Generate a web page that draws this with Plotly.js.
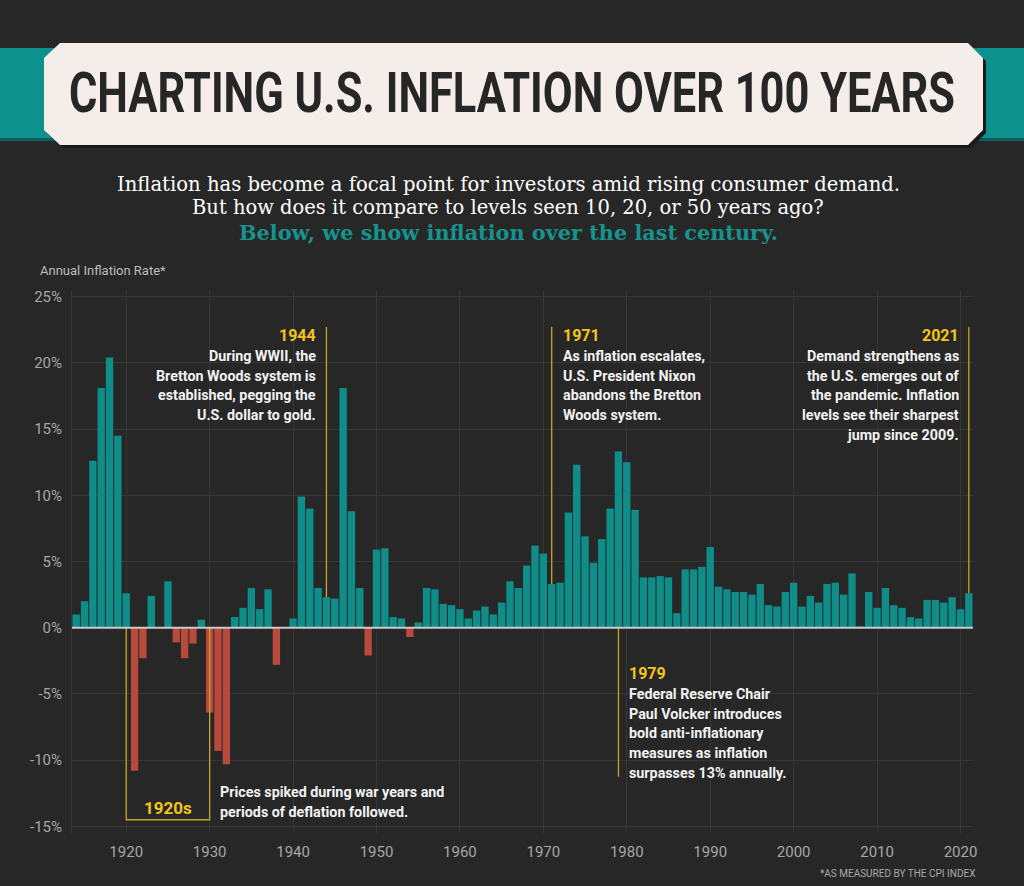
<!DOCTYPE html>
<html>
<head>
<meta charset="utf-8">
<script src="https://cdn.plot.ly/plotly-3.0.1.min.js"></script>
<style>
  html, body { margin: 0; padding: 0; background: #272727; }
  #chart { width: 1024px; height: 886px; }
</style>
</head>
<body>
<div id="chart"></div>
<script>
// ---- data ----
const years = [];
for (let y = 1914; y <= 2021; y++) years.push(y);
const inflation = [
  1.0, 2.0, 12.6, 18.1, 20.4, 14.5, 2.6,            // 1914-1920
  -10.8, -2.3, 2.4, 0.0, 3.5, -1.1, -2.3, -1.2, 0.6, // 1921-1929
  -6.4, -9.3, -10.3, 0.8, 1.5, 3.0, 1.4, 2.9, -2.8, 0.0, // 1930-1939
  0.7, 9.9, 9.0, 3.0, 2.3, 2.2, 18.1, 8.8, 3.0, -2.1, // 1940-1949
  5.9, 6.0, 0.8, 0.7, -0.7, 0.4, 3.0, 2.9, 1.8, 1.7,  // 1950-1959
  1.4, 0.7, 1.3, 1.6, 1.0, 1.9, 3.5, 3.0, 4.7, 6.2,   // 1960-1969
  5.6, 3.3, 3.4, 8.7, 12.3, 6.9, 4.9, 6.7, 9.0, 13.3, // 1970-1979
  12.5, 8.9, 3.8, 3.8, 3.9, 3.8, 1.1, 4.4, 4.4, 4.6,  // 1980-1989
  6.1, 3.1, 2.9, 2.7, 2.7, 2.5, 3.3, 1.7, 1.6, 2.7,   // 1990-1999
  3.4, 1.6, 2.4, 1.9, 3.3, 3.4, 2.5, 4.1, 0.1, 2.7,   // 2000-2009
  1.5, 3.0, 1.7, 1.5, 0.8, 0.7, 2.1, 2.1, 1.9, 2.3,   // 2010-2019
  1.4, 2.6                                            // 2020-2021
];
const tickYears = [1920, 1930, 1940, 1950, 1960, 1970, 1980, 1990, 2000, 2010, 2020];
const tickYearLabels = tickYears.map(String);
const yTicks = [-15, -10, -5, 0, 5, 10, 15, 20, 25];
const yTickLabels = yTicks.map(v => v + '%');

const events = [
  {year: 1944, title: '1944', side: 'left',
   lines: ['During WWII, the', 'Bretton Woods system is', 'established, pegging the', 'U.S. dollar to gold.']},
  {year: 1971, title: '1971', side: 'right',
   lines: ['As inflation escalates,', 'U.S. President Nixon', 'abandons the Bretton', 'Woods system.']},
  {year: 2021, title: '2021', side: 'left',
   lines: ['Demand strengthens as', 'the U.S. emerges out of', 'the pandemic. Inflation', 'levels see their sharpest', 'jump since 2009.']}
];
const volcker = {year: 1979, title: '1979',
  lines: ['Federal Reserve Chair', 'Paul Volcker introduces', 'bold anti-inflationary', 'measures as inflation', 'surpasses 13% annually.']};
const decadeNote = ['Prices spiked during war years and', 'periods of deflation followed.'];

// ---- layout geometry (pixels) ----
const W = 1024, H = 886;
const M = {l: 72, r: 51, t: 290, b: 53};
const plotW = W - M.l - M.r, plotH = H - M.t - M.b;
const px = x => (x - M.l) / plotW;          // pixel -> paper x
const py = y => (H - M.b - y) / plotH;      // pixel -> paper y
const yearPx = yr => M.l + (yr - 1913.5) * plotW / 108;
const LINE_H = 19.7;

const TEAL = '#0f8e89';
const RED = '#b84a3d';
const YEL = '#f3c41a';
const LINEY = '#c9a52a';
const COND = 'Roboto, "Liberation Sans", sans-serif';
const SERIF = '"DejaVu Serif", "Liberation Serif", serif';

const valueOf = yr => inflation[years.indexOf(yr)];

const trace = {
  type: 'bar',
  x: years,
  y: inflation,
  marker: {color: inflation.map(v => v < 0 ? RED : TEAL), line: {width: 0}},
  width: 0.88,
  hoverinfo: 'x+y'
};

const shapes = [];
const annotations = [];

// banner: teal band + cream plaque
shapes.push({type: 'rect', xref: 'paper', yref: 'paper', layer: 'below',
  x0: px(0), x1: px(W), y0: py(138), y1: py(48), fillcolor: '#0d918c', line: {width: 0}});
shapes.push({type: 'rect', xref: 'paper', yref: 'paper', layer: 'below',
  x0: px(0), x1: px(W), y0: py(141), y1: py(138), fillcolor: '#0a5e5b', line: {width: 0}});
const plaque = [[60,43],[968,43],[983,58],[983,130],[968,145],[60,145],[44,130],[44,58]];
const plaqueShadow = plaque.map(p => [p[0] + 3, p[1] + 3]);
const toPath = pts => 'M ' + pts.map(p => px(p[0]).toFixed(5) + ',' + py(p[1]).toFixed(5)).join(' L ') + ' Z';
shapes.push({type: 'path', xref: 'paper', yref: 'paper', layer: 'below',
  path: toPath(plaqueShadow), fillcolor: '#1a1a1a', line: {width: 0}});
shapes.push({type: 'path', xref: 'paper', yref: 'paper', layer: 'below',
  path: toPath(plaque), fillcolor: '#f4edea', line: {width: 0}});

const bodyFont = {family: COND, size: 14.3, color: '#f2f2f2', weight: 700};
const yearFont = {family: COND, size: 16, color: YEL, weight: 700};

function addBlock(xPix, firstY, anchor, title, lines) {
  annotations.push({xref: 'paper', yref: 'paper', x: px(xPix), y: py(firstY),
    xanchor: anchor, yanchor: 'middle', showarrow: false, text: title, font: yearFont});
  lines.forEach((ln, i) => {
    annotations.push({xref: 'paper', yref: 'paper', x: px(xPix), y: py(firstY + 21 + i * LINE_H),
      xanchor: anchor, yanchor: 'middle', showarrow: false, text: ln, font: bodyFont});
  });
}

// event lines
events.forEach(ev => {
  shapes.push({type: 'line', xref: 'x', yref: 'y', x0: ev.year, x1: ev.year,
    y0: valueOf(ev.year), y1: 22.7, line: {color: LINEY, width: 1.3}});
  const left = ev.side === 'left';
  addBlock(left ? yearPx(ev.year) - 8 : yearPx(ev.year) + 9, 335, left ? 'right' : 'left', ev.title, ev.lines);
});

// Volcker
shapes.push({type: 'line', xref: 'x', yref: 'y', x0: volcker.year, x1: volcker.year,
  y0: 0, y1: -11.25, line: {color: LINEY, width: 1.3}});
addBlock(yearPx(volcker.year) + 9, 673, 'left', volcker.title, volcker.lines);

// 1920s bracket
shapes.push({type: 'path', xref: 'x', yref: 'y',
  path: 'M 1920,0 L 1920,-14.5 L 1930,-14.5 L 1930,0', line: {color: LINEY, width: 1.3}});
annotations.push({xref: 'x', yref: 'y', x: 1925, y: -13.6, xanchor: 'center', yanchor: 'middle',
  showarrow: false, text: '1920s', font: {family: COND, size: 17, color: YEL, weight: 700}});
decadeNote.forEach((ln, i) => {
  annotations.push({xref: 'paper', yref: 'paper', x: px(218), y: py(792 + i * 19.5), xanchor: 'left', yanchor: 'middle',
    showarrow: false, text: ln, font: bodyFont});
});

// zero line on top
shapes.push({type: 'line', xref: 'paper', yref: 'y', x0: 0, x1: 1, y0: 0, y1: 0,
  line: {color: '#c9c9c9', width: 2}});

// header text
annotations.push({xref: 'paper', yref: 'paper', x: px(508), y: py(184), xanchor: 'center', yanchor: 'middle',
  showarrow: false, text: 'Inflation has become a focal point for investors amid rising consumer demand.',
  font: {family: SERIF, size: 19.6, color: '#ffffff'}});
annotations.push({xref: 'paper', yref: 'paper', x: px(508), y: py(208), xanchor: 'center', yanchor: 'middle',
  showarrow: false, text: 'But how does it compare to levels seen 10, 20, or 50 years ago?',
  font: {family: SERIF, size: 19.5, color: '#ffffff'}});
annotations.push({xref: 'paper', yref: 'paper', x: px(508), y: py(232), xanchor: 'center', yanchor: 'middle',
  showarrow: false, text: 'Below, we show inflation over the last century.',
  font: {family: SERIF, size: 20.8, color: '#17938d', weight: 700}});
annotations.push({xref: 'paper', yref: 'paper', x: px(38), y: py(270), xanchor: 'left', yanchor: 'middle',
  showarrow: false, text: 'Annual Inflation Rate*', font: {family: COND, size: 13, color: '#bdbdbd'}});
annotations.push({xref: 'paper', yref: 'paper', x: px(977), y: py(873), xanchor: 'right', yanchor: 'middle',
  showarrow: false, text: '*AS MEASURED BY THE CPI INDEX', font: {family: COND, size: 10, color: '#a8a8a8'}});

const layout = {
  width: W, height: H,
  margin: M,
  paper_bgcolor: '#272727',
  plot_bgcolor: '#272727',
  showlegend: false,
  bargap: 0.1,
  title: {
    text: 'CHARTING U.S. INFLATION OVER 100 YEARS',
    font: {family: COND, size: 42, color: '#262626', weight: 700},
    x: 0.5, xref: 'container', xanchor: 'center',
    y: 1 - 93 / H, yref: 'container', yanchor: 'middle'
  },
  xaxis: {
    range: [1913.5, 2021.5],
    tickvals: tickYears, ticktext: tickYearLabels,
    showgrid: true, gridcolor: '#363636', gridwidth: 1,
    zeroline: false, showline: false, ticks: '',
    ticklabelstandoff: 8,
    tickfont: {family: COND, size: 15, color: '#a6a6a6'},
    fixedrange: true
  },
  yaxis: {
    range: [-15.5, 25.5],
    tickvals: yTicks, ticktext: yTickLabels,
    showgrid: true, gridcolor: '#363636', gridwidth: 1,
    zeroline: false, showline: true, linecolor: '#363636', linewidth: 1,
    ticks: '', ticklabelstandoff: 6,
    tickfont: {family: COND, size: 15, color: '#a6a6a6'},
    fixedrange: true
  },
  shapes: shapes,
  annotations: annotations
};

Plotly.newPlot('chart', [trace], layout, {displayModeBar: false, staticPlot: true}).then(gd => {
  // give the banner title the tall, condensed look of the original display face
  const t = gd.querySelector('.gtitle');
  if (t) {
    t.setAttribute('textLength', '886');
    t.setAttribute('lengthAdjust', 'spacingAndGlyphs');
    const bb = t.getBBox();
    const cy = bb.y + bb.height / 2;
    t.setAttribute('transform', `translate(0,${cy}) scale(1,1.3) translate(0,${-cy})`);
  }
});
</script>
</body>
</html>
